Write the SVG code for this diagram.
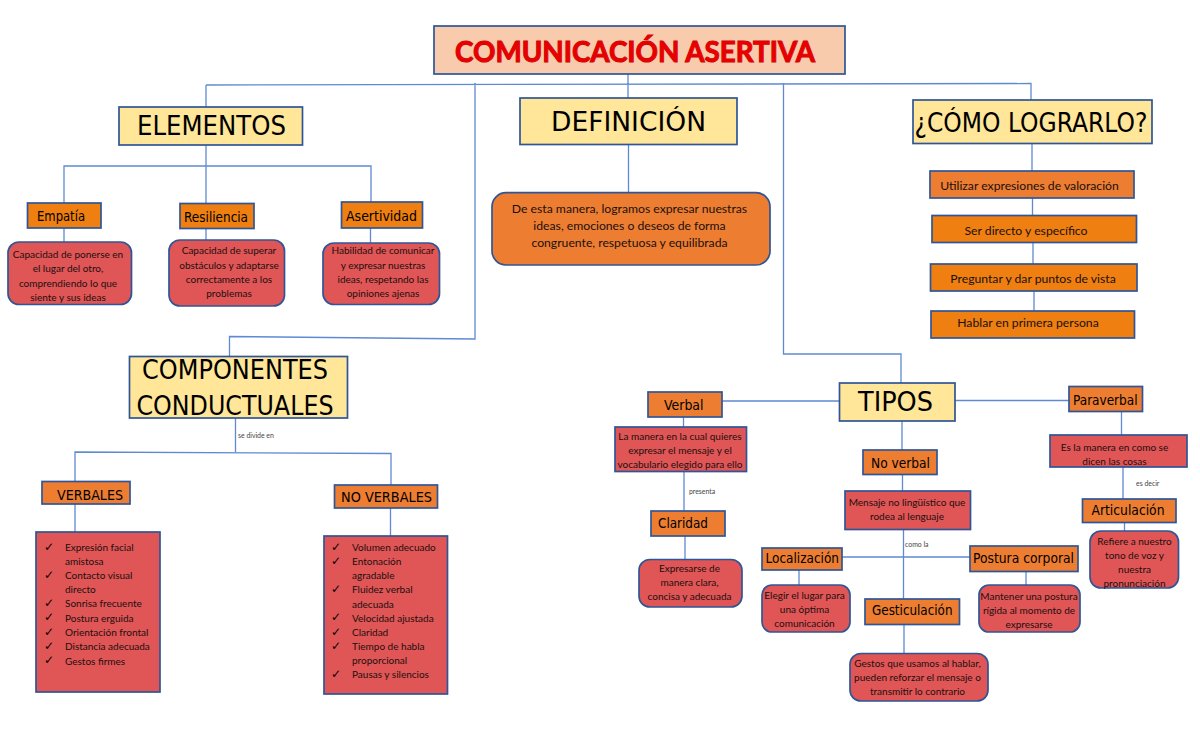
<svg xmlns="http://www.w3.org/2000/svg" width="1200" height="729" viewBox="0 0 1200 729">
<style>
text{font-family:"Lato","Noto Sans",sans-serif;fill:#1a1010}
.c{text-anchor:middle}
.b{font-size:10px}
.m{font-size:12.2px}
.s{font-size:6.9px;fill:#444}
.h,.g{font-family:"DejaVu Sans","Noto Sans",sans-serif;fill:#000}
.h{font-size:26px}
.g{font-size:14px}
.ck{font-family:"DejaVu Sans",sans-serif;font-size:12px;font-weight:700;fill:#000}
.box{stroke:#2F5597;stroke-width:1.7}
.y{fill:#FFE699}.o{fill:#ED7D31}.o2{fill:#EE7F10}.r{fill:#E05555}
#connectors path{fill:none;stroke:#5F8AD3;stroke-width:1.3}
</style>
<rect width="1200" height="729" fill="#fff"/>
<g id="connectors">
<path d="M628 74V98M206 85L1031 83.500V100M475 83V339L229.500 336.500V356M628.500 144V192M783.500 83V354H901V383M1032 143V171M1032.500 198V216M1033 242V264M1034 291V311"/>
<path d="M206 85V107M206 145V204M64 203V166H371V203M64 228V242M206 228V240M370.500 228V243"/>
<path d="M235.500 418V452M75 481V452L391 453.500V485M75 504V532M390.500 508V536"/>
<path d="M722 401H839M955 400.500H1069M902 421V450M902.500 474V491M903.500 529V599M904 624V653M842 557H970M799 570V585M1026 571V585"/>
<path d="M683.500 417V427M684 471V511M685 536V559M1121.500 411V435M1123 467V499M1124.500 522V531"/>
</g>
<g id="title"><rect class="box" x="434" y="26" width="411" height="48" fill="#F8CBAD"/>
<text x="455" y="61.500" font-size="29" font-weight="700" textLength="360" lengthAdjust="spacingAndGlyphs" style="fill:#E80000;stroke:#C80000;stroke-width:1px;paint-order:stroke">COMUNICACIÓN ASERTIVA</text></g>

<g id="elementos"><rect class="box y" x="119" y="107" width="183.500" height="38"/><text class="h" x="137" y="135" textLength="149" lengthAdjust="spacingAndGlyphs">ELEMENTOS</text></g>
<g id="definicion"><rect class="box y" x="520" y="98" width="217" height="46.500"/><text class="h" x="551" y="131" textLength="155" lengthAdjust="spacingAndGlyphs">DEFINICIÓN</text></g>
<g id="como"><rect class="box y" x="913" y="100" width="239" height="43.500"/><text class="h" x="914.500" y="132" textLength="233" lengthAdjust="spacingAndGlyphs">¿CÓMO LOGRARLO?</text></g>
<g id="componentes"><rect class="box y" x="129.500" y="356.500" width="218" height="61.500"/><text class="h" x="142" y="379" textLength="186" lengthAdjust="spacingAndGlyphs">COMPONENTES</text><text class="h" x="136.500" y="415" textLength="197" lengthAdjust="spacingAndGlyphs">CONDUCTUALES</text></g>
<g id="tipos"><rect class="box y" x="839.500" y="383" width="115.500" height="38"/><text class="h" x="858" y="411" textLength="75" lengthAdjust="spacingAndGlyphs">TIPOS</text></g>

<g id="empatia"><rect class="box o2" x="27.500" y="203" width="73.500" height="25"/><text class="g" x="37" y="221" textLength="48" lengthAdjust="spacingAndGlyphs">Empatía</text></g>
<g id="resiliencia"><rect class="box o2" x="180" y="203.500" width="74" height="25"/><text class="g" x="184" y="222" textLength="64" lengthAdjust="spacingAndGlyphs">Resiliencia</text></g>
<g id="asertividad"><rect class="box o2" x="341.500" y="202" width="81" height="26"/><text class="g" x="346" y="221" textLength="71" lengthAdjust="spacingAndGlyphs">Asertividad</text></g>

<g id="empatia-def"><rect class="box r" x="8" y="242" width="123.500" height="62.500" rx="11"/><text class="b c" x="68" y="258">Capacidad de ponerse en</text><text class="b c" x="68" y="272">el lugar del otro,</text><text class="b c" x="68" y="286.500">comprendiendo lo que</text><text class="b c" x="68" y="300.500">siente y sus ideas</text></g>
<g id="resiliencia-def"><rect class="box r" x="169" y="240" width="115.500" height="66" rx="11"/><text class="b c" x="229" y="254">Capacidad de superar</text><text class="b c" x="229" y="268.500">obstáculos y adaptarse</text><text class="b c" x="229" y="282.500">correctamente a los</text><text class="b c" x="229" y="297">problemas</text></g>
<g id="asertividad-def"><rect class="box r" x="323" y="243" width="116.500" height="61.500" rx="11"/><text class="b c" x="383" y="254">Habilidad de comunicar</text><text class="b c" x="383" y="268.500">y expresar nuestras</text><text class="b c" x="383" y="282.500">ideas, respetando las</text><text class="b c" x="383" y="296.500">opiniones ajenas</text></g>

<g id="definicion-texto"><rect class="box o" x="492" y="192.700" width="278" height="72.300" rx="14"/><text class="m c" x="629.500" y="212.500">De esta manera, logramos expresar nuestras</text><text class="m c" x="629.500" y="229.500">ideas, emociones o deseos de forma</text><text class="m c" x="629.500" y="247">congruente, respetuosa y equilibrada</text></g>

<g id="valoracion"><rect class="box o" x="930" y="171" width="204" height="27"/><text class="m c" x="1029.500" y="190">Utilizar expresiones de valoración</text></g>
<g id="directo"><rect class="box o2" x="932" y="215.500" width="204.500" height="27"/><text class="m c" x="1026" y="234.500">Ser directo y específico</text></g>
<g id="preguntar"><rect class="box o2" x="930.500" y="264" width="206.500" height="27"/><text class="m c" x="1033" y="282.500">Preguntar y dar puntos de vista</text></g>
<g id="hablar"><rect class="box o2" x="931" y="311" width="203.500" height="27"/><text class="m c" x="1028" y="327">Hablar en primera persona</text></g>

<text class="s" x="238" y="437.500">se divide en</text>
<g id="verbales"><rect class="box o" x="42" y="481.500" width="88" height="22.500"/><text class="g" x="57" y="500" textLength="66" lengthAdjust="spacingAndGlyphs">VERBALES</text></g>
<g id="no-verbales"><rect class="box o" x="334.500" y="485" width="103" height="23"/><text class="g" x="341" y="502" textLength="91" lengthAdjust="spacingAndGlyphs">NO VERBALES</text></g>

<g id="lista-verbales"><rect class="box r" x="36" y="532" width="124" height="160"/>
<text class="ck" x="44" y="551">✓</text><text class="ck" x="44" y="579">✓</text><text class="ck" x="44" y="607">✓</text><text class="ck" x="44" y="621">✓</text><text class="ck" x="44" y="635.500">✓</text><text class="ck" x="44" y="649.500">✓</text><text class="ck" x="44" y="664">✓</text>
<text class="b" x="65" y="551">Expresión facial</text><text class="b" x="65" y="565">amistosa</text><text class="b" x="65" y="579">Contacto visual</text><text class="b" x="65" y="593">directo</text><text class="b" x="65" y="607">Sonrisa frecuente</text><text class="b" x="65" y="621.500">Postura erguida</text><text class="b" x="65" y="635.500">Orientación frontal</text><text class="b" x="65" y="649.500">Distancia adecuada</text><text class="b" x="65" y="665">Gestos firmes</text></g>

<g id="lista-no-verbales"><rect class="box r" x="324" y="536" width="123.500" height="158"/>
<text class="ck" x="331" y="551">✓</text><text class="ck" x="331" y="565">✓</text><text class="ck" x="331" y="593">✓</text><text class="ck" x="331" y="621">✓</text><text class="ck" x="331" y="635.500">✓</text><text class="ck" x="331" y="649.500">✓</text><text class="ck" x="331" y="677.500">✓</text>
<text class="b" x="352" y="551">Volumen adecuado</text><text class="b" x="352" y="565">Entonación</text><text class="b" x="352" y="579">agradable</text><text class="b" x="352" y="593">Fluidez verbal</text><text class="b" x="352" y="607.500">adecuada</text><text class="b" x="352" y="621.500">Velocidad ajustada</text><text class="b" x="352" y="636">Claridad</text><text class="b" x="352" y="650">Tiempo de habla</text><text class="b" x="352" y="664">proporcional</text><text class="b" x="352" y="678">Pausas y silencios</text></g>

<g id="verbal"><rect class="box o" x="648" y="392" width="74" height="25"/><text class="g" x="664" y="410" textLength="39.500" lengthAdjust="spacingAndGlyphs">Verbal</text></g>
<g id="verbal-def"><rect class="box r" x="615" y="427" width="131.500" height="44.500"/><text class="b c" x="680" y="439.500">La manera en la cual quieres</text><text class="b c" x="680" y="453.500">expresar el mensaje y el</text><text class="b c" x="680" y="467.500">vocabulario elegido para ello</text></g>
<text class="s" x="689" y="494">presenta</text>
<g id="claridad"><rect class="box o" x="651" y="511" width="74" height="25"/><text class="g" x="658" y="528" textLength="50" lengthAdjust="spacingAndGlyphs">Claridad</text></g>
<g id="claridad-def"><rect class="box r" x="639" y="559.500" width="103" height="47.500" rx="11"/><text class="b c" x="689.500" y="572">Expresarse de</text><text class="b c" x="689.500" y="585.500">manera clara,</text><text class="b c" x="689.500" y="599.500">concisa y adecuada</text></g>

<g id="no-verbal"><rect class="box o" x="863" y="450" width="74" height="24.500"/><text class="g" x="871" y="467.500" textLength="59" lengthAdjust="spacingAndGlyphs">No verbal</text></g>
<g id="no-verbal-def"><rect class="box r" x="845" y="491" width="125.500" height="38.500"/><text class="b c" x="907" y="505.500">Mensaje no lingüístico que</text><text class="b c" x="907" y="519.500">rodea al lenguaje</text></g>
<text class="s" x="905" y="546.500">como la</text>
<g id="localizacion"><rect class="box o" x="762" y="548" width="80" height="22"/><text class="g" x="765.500" y="563" textLength="73.500" lengthAdjust="spacingAndGlyphs">Localización</text></g>
<g id="localizacion-def"><rect class="box r" x="762" y="585" width="88" height="47" rx="10"/><text class="b c" x="804.500" y="599">Elegir el lugar para</text><text class="b c" x="804.500" y="613">una óptima</text><text class="b c" x="804.500" y="627">comunicación</text></g>
<g id="postura"><rect class="box o" x="970" y="546" width="108" height="25.500"/><text class="g" x="973" y="562.500" textLength="101" lengthAdjust="spacingAndGlyphs">Postura corporal</text></g>
<g id="postura-def"><rect class="box r" x="979" y="585" width="101" height="47" rx="10"/><text class="b c" x="1029" y="599.500">Mantener una postura</text><text class="b c" x="1029" y="613.500">rígida al momento de</text><text class="b c" x="1029" y="627.500">expresarse</text></g>
<g id="gesticulacion"><rect class="box o" x="865" y="599" width="94.500" height="25.500"/><text class="g" x="872" y="615" textLength="80.500" lengthAdjust="spacingAndGlyphs">Gesticulación</text></g>
<g id="gesticulacion-def"><rect class="box r" x="850" y="653.500" width="138" height="47.500" rx="11"/><text class="b c" x="917.500" y="666.500">Gestos que usamos al hablar,</text><text class="b c" x="917.500" y="680.500">pueden reforzar el mensaje o</text><text class="b c" x="917.500" y="694.500">transmitir lo contrario</text></g>

<g id="paraverbal"><rect class="box o" x="1069" y="386.500" width="73.500" height="25"/><text class="g" x="1073" y="405" textLength="64.500" lengthAdjust="spacingAndGlyphs">Paraverbal</text></g>
<g id="paraverbal-def"><rect class="box r" x="1050" y="435" width="137" height="32"/><text class="b c" x="1114.500" y="451">Es la manera en como se</text><text class="b c" x="1114.500" y="465">dicen las cosas</text></g>
<text class="s" x="1136" y="486">es decir</text>
<g id="articulacion"><rect class="box o" x="1082.500" y="499" width="93.500" height="23.500"/><text class="g" x="1091.500" y="515" textLength="73" lengthAdjust="spacingAndGlyphs">Articulación</text></g>
<g id="articulacion-def"><rect class="box r" x="1090" y="531" width="88.500" height="57" rx="11"/><text class="b c" x="1134.500" y="544.500">Refiere a nuestro</text><text class="b c" x="1134.500" y="558.500">tono de voz y</text><text class="b c" x="1134.500" y="573">nuestra</text><text class="b c" x="1134.500" y="587">pronunciación</text></g>
</svg>
